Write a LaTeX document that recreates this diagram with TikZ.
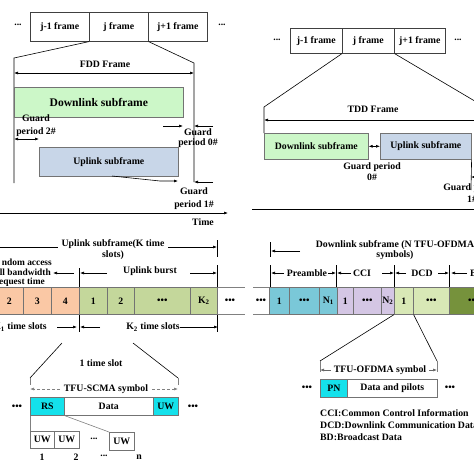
\documentclass[tikz,border=0pt]{standalone}
\usepackage{fontspec}
\setmainfont{Liberation Serif}
\usetikzlibrary{arrows.meta}
\definecolor{dlgreen}{RGB}{204,247,200}
\definecolor{ulblue}{RGB}{200,214,232}
\definecolor{orng}{RGB}{250,200,165}
\definecolor{gcell}{RGB}{196,215,155}
\definecolor{cyanc}{RGB}{20,225,235}
\definecolor{pblue}{RGB}{122,200,216}
\definecolor{purp}{RGB}{212,198,228}
\definecolor{lgr}{RGB}{216,232,182}
\definecolor{dgr}{RGB}{118,146,60}
\tikzset{
  lbl/.style={font=\bfseries\fontsize{9.8}{12}\selectfont, inner sep=0pt, align=center},
  cellbox/.style={draw=black!55, line width=0.6pt, anchor=north west, inner sep=0pt,
     font=\bfseries\fontsize{9.8}{12}\selectfont},
  fbox/.style={draw=black!75, line width=0.6pt, anchor=north west, inner sep=0pt,
     font=\bfseries\fontsize{9.8}{12}\selectfont},
  arr/.style={-{Latex[length=4pt,width=3pt]}, line width=0.6pt},
  darr/.style={{Latex[length=4pt,width=3pt]}-{Latex[length=4pt,width=3pt]}, line width=0.6pt},
  ln/.style={line width=0.6pt},
  gline/.style={line width=0.6pt, draw=black!50},
}
\begin{document}
\begin{tikzpicture}[x=1pt,y=-1pt]
\useasboundingbox (0,0) rectangle (474,474);
\clip (0,0) rectangle (474,474);
\fill[white] (0,0) rectangle (474,474);

% ===== FDD (top left) =====
\node[fbox, minimum width=59, minimum height=29] (f1) at (30,12) {j-1 frame};
\node[fbox, minimum width=59, minimum height=29] (f2) at (89,12) {j frame};
\node[fbox, minimum width=59, minimum height=29] (f3) at (148,12) {j+1 frame};
\node[lbl] (fd1) at (18,25) {...};
\node[lbl] (fd2) at (222,25) {...};
\coordinate (fddL) at (14,58);
\coordinate (fddR) at (194,63);
\coordinate (fddLb) at (14,183);
\coordinate (fddRb) at (194,182);
\draw[ln] (f2.south west) -- (fddL) -- (fddLb);
\draw[ln] (f2.south east) -- (fddR) -- (fddRb);
\node[lbl] (fddt) at (105,64) {FDD Frame};
\coordinate (fa1) at (14,73); \coordinate (fa2) at (194,73);
\draw[darr] (fa1) -- (fa2);
\node[cellbox, fill=dlgreen, minimum width=169, minimum height=30,
  font=\bfseries\fontsize{11.6}{13}\selectfont] (dl1) at (14,87) {Downlink subframe};
\node[lbl, font=\bfseries\fontsize{9.8}{13}\selectfont] (gp2) at (36,126) {Guard\\period 2\#};
\coordinate (g2a) at (14,139); \coordinate (g2b) at (39,139);
\draw[darr] (g2a) -- (g2b);
\node[cellbox, fill=ulblue, minimum width=139, minimum height=29] (ul1) at (39,147) {Uplink subframe};
\coordinate (g0a) at (163,126); \coordinate (g0b) at (183,126);
\coordinate (g0c) at (213,126); \coordinate (g0d) at (194,126);
\draw[arr] (g0a) -- (g0b);
\draw[arr] (g0c) -- (g0d);
\node[lbl, font=\bfseries\fontsize{9.8}{10.5}\selectfont] (gp0) at (198,138) {Guard\\period 0\#};
\coordinate (g1s) at (112,176); \coordinate (g1m) at (160,181); \coordinate (g1e) at (178,181);
\draw[arr] (g1s) -- (g1m) -- (g1e);
\coordinate (g1c) at (213,182); \coordinate (g1d) at (194,182);
\draw[arr] (g1c) -- (g1d);
\node[lbl, font=\bfseries\fontsize{9.8}{13}\selectfont] (gp1) at (194,199) {Guard\\period 1\#};
\coordinate (t0) at (0,213); \coordinate (t1) at (228,213);
\draw[arr] (t0) -- (t1);
\node[lbl] (time) at (203,222) {Time};

% ===== TDD (top right) =====
\node[fbox, minimum width=52, minimum height=25] (r1) at (290,28) {j-1 frame};
\node[fbox, minimum width=52, minimum height=25] (r2) at (342,28) {j frame};
\node[fbox, minimum width=51, minimum height=25] (r3) at (394,28) {j+1 frame};
\node[lbl] (rd1) at (277,40) {...};
\node[lbl] (rd2) at (458,40) {...};
\coordinate (tddL) at (264,107); \coordinate (tddLb) at (264,133);
\coordinate (tddR) at (473,100); \coordinate (tddRb) at (490,110);
\draw[ln] (r2.south west) -- (tddL) -- (tddLb);
\draw[ln] (r2.south east) -- (tddR) -- (tddRb);
\node[lbl] (tddt) at (373,109) {TDD Frame};
\coordinate (ta1) at (490,120); \coordinate (ta2) at (264,120);
\draw[arr] (ta1) -- (ta2);
\node[cellbox, fill=dlgreen, minimum width=104, minimum height=26] (dl2) at (264,133) {Downlink subframe};
\node[cellbox, fill=ulblue, minimum width=91, minimum height=26] (ul2) at (380,133) {Uplink subframe};
\draw[darr] (dl2.east) -- (ul2.west);
\node[lbl, font=\bfseries\fontsize{9.8}{11}\selectfont] (gpr0) at (372,172) {Guard period\\0\#};
\coordinate (vr2) at (471,190);
\draw[ln] (ul2.south east) -- (vr2);
\coordinate (gr1a) at (486,177); \coordinate (gr1b) at (471,177);
\draw[arr] (gr1a) -- (gr1b);
\node[lbl, font=\bfseries\fontsize{9.8}{12}\selectfont] (gpr1) at (472,193) {Guard period\\1\#};
\coordinate (tr0) at (252,209); \coordinate (tr1) at (480,209);
\draw[ln] (tr0) -- (tr1);

% ===== Uplink subframe strip (left middle) =====
\coordinate (us0) at (0,247); \coordinate (us1) at (58,247);
\draw[ln] (us0) -- (us1);
\node[lbl, font=\bfseries\fontsize{9.8}{11}\selectfont] (ust) at (113,249.5) {Uplink subframe(K time\\slots)};
\coordinate (us2) at (168,247); \coordinate (us3) at (217,247);
\draw[arr] (us2) -- (us3);
\coordinate (uv1) at (217,240); \coordinate (uv2) at (217,257);
\draw[ln] (uv1) -- (uv2);
\node[lbl, anchor=east, font=\bfseries\fontsize{9.4}{11}\selectfont] (ra1) at (52,262.5) {ndom access};
\node[lbl, anchor=east, font=\bfseries\fontsize{9.4}{11}\selectfont] (ra2) at (51,272.5) {ll bandwidth};
\node[lbl, anchor=east, font=\bfseries\fontsize{9.4}{11}\selectfont] (ra3) at (45,282.5) {equest time};
\coordinate (raA) at (74,273); \coordinate (raB) at (53,273);
\draw[arr] (raA) -- (raB);
\coordinate (v79a) at (79,268); \coordinate (v79b) at (79,332);
\draw[ln] (v79a) -- (v79b);
\coordinate (ubA) at (107,273); \coordinate (ubB) at (80,273);
\draw[arr] (ubA) -- (ubB);
\node[lbl] (ubt) at (150,271) {Uplink burst};
\coordinate (ubC) at (190,273); \coordinate (ubD) at (217,273);
\draw[arr] (ubC) -- (ubD);
\coordinate (v217a) at (217,265); \coordinate (v217b) at (217,332);
\draw[ln] (v217a) -- (v217b);
% strip
\coordinate (lsA) at (0,287); \coordinate (lsB) at (245,287);
\coordinate (lsC) at (0,314); \coordinate (lsD) at (245,314);
\draw[gline] (lsA) -- (lsB);
\draw[gline] (lsC) -- (lsD);
\node[cellbox, fill=orng, minimum width=28, minimum height=27] (oc0) at (-33,287) {1};
\node[cellbox, fill=orng, minimum width=28, minimum height=27] (oc1) at (-5,287) {2};
\node[cellbox, fill=orng, minimum width=28, minimum height=27] (oc2) at (23,287) {3};
\node[cellbox, fill=orng, minimum width=28, minimum height=27] (oc3) at (51,287) {4};
\node[cellbox, fill=gcell, minimum width=28, minimum height=27] (gc1) at (79,287) {1};
\node[cellbox, fill=gcell, minimum width=27, minimum height=27] (gc2) at (107,287) {2};
\node[cellbox, fill=gcell, minimum width=56, minimum height=27] (gc3) at (134,287) {•••};
\node[cellbox, fill=gcell, minimum width=27, minimum height=27] (gc4) at (190,287) {K\textsubscript{2}};
\node[lbl] (ld1) at (230,301) {•••};
\node[lbl, anchor=east] (k1t) at (47,327) {K\textsubscript{1} time slots};
\coordinate (k1a) at (57,327); \coordinate (k1b) at (77,327);
\draw[arr] (k1a) -- (k1b);
\coordinate (k2a) at (100,327); \coordinate (k2b) at (80,327);
\draw[arr] (k2a) -- (k2b);
\node[lbl] (k2t) at (153,327) {K\textsubscript{2} time slots};
\coordinate (k2c) at (180,327); \coordinate (k2d) at (218,327);
\draw[arr] (k2c) -- (k2d);
% zoom to one time slot
\coordinate (zl0) at (62,343); \coordinate (zl1) at (30,378); \coordinate (zl2) at (30,385);
\coordinate (zr0) at (133,343); \coordinate (zr1) at (178,378); \coordinate (zr2) at (178,385);
\draw[ln] (zl0) -- (zl1);
\draw[gline] (zl1) -- (zl2);
\draw[ln] (zr0) -- (zr1);
\draw[gline] (zr1) -- (zr2);
\node[lbl] (ots) at (101,363) {1 time slot};
\node[lbl] (scma) at (106,389) {TFU-SCMA symbol};
\coordinate (sa1) at (60,389); \coordinate (sa2) at (30,389);
\coordinate (sa3) at (152,389); \coordinate (sa4) at (178,389);
\draw[arr, densely dashed, draw=black!50] (sa1) -- (sa2);
\draw[arr, densely dashed, draw=black!50] (sa3) -- (sa4);
\node[cellbox, fill=cyanc, minimum width=34, minimum height=18] (rs) at (30,397) {RS};
\node[cellbox, minimum width=89, minimum height=18] (sdata) at (64,397) {Data};
\node[cellbox, fill=cyanc, minimum width=25, minimum height=18] (suw) at (153,397) {UW};
\node[lbl] (sd1) at (17,407) {•••};
\node[lbl] (sd2) at (193,407) {•••};
\node[cellbox, minimum width=24, minimum height=17] (uw1) at (30,431) {UW};
\node[cellbox, minimum width=25, minimum height=17] (uw2) at (54,431) {UW};
\node[lbl] (uwd) at (94,439) {...};
\node[cellbox, minimum width=25, minimum height=18] (uwn) at (109,432) {UW};
\draw[gline] (rs.south east) -- (uwn.north west);
\draw[gline] (rs.south west) -- (uw1.north west);
\node[lbl] (n1) at (42,457) {1};
\node[lbl] (n2) at (76,457) {2};
\node[lbl] (n3) at (104,456) {...};
\node[lbl] (nn) at (139,457) {n};

% ===== Downlink subframe strip (right middle) =====
\node[lbl, font=\bfseries\fontsize{9.8}{10.5}\selectfont] (dst) at (395,250) {Downlink subframe (N TFU-OFDMA\\symbols)};
\coordinate (da1) at (300,251); \coordinate (da2) at (271,251);
\draw[arr] (da1) -- (da2);
\coordinate (dv1) at (270,242); \coordinate (dv2) at (270,257);
\draw[ln] (dv1) -- (dv2);
\coordinate (b270a) at (270,265); \coordinate (b270b) at (270,287);
\coordinate (b336a) at (336,265); \coordinate (b336b) at (336,287);
\coordinate (b394a) at (394,265); \coordinate (b394b) at (394,287);
\coordinate (b449a) at (449,265); \coordinate (b449b) at (449,287);
\draw[ln] (b270a) -- (b270b);
\draw[ln] (b336a) -- (b336b);
\draw[ln] (b394a) -- (b394b);
\draw[ln] (b449a) -- (b449b);
\coordinate (pa1) at (284,273); \coordinate (pa2) at (271,273);
\coordinate (pa3) at (328,273); \coordinate (pa4) at (336,273);
\draw[arr] (pa1) -- (pa2);
\draw[arr] (pa3) -- (pa4);
\node[lbl] (pret) at (307,273) {Preamble};
\coordinate (ca1) at (351,273); \coordinate (ca2) at (337,273);
\coordinate (ca3) at (382,273); \coordinate (ca4) at (394,273);
\draw[arr] (ca1) -- (ca2);
\draw[arr] (ca3) -- (ca4);
\node[lbl] (ccit) at (362,273) {CCI};
\coordinate (dd1) at (406,273); \coordinate (dd2) at (395,273);
\coordinate (dd3) at (438,273); \coordinate (dd4) at (449,273);
\draw[arr] (dd1) -- (dd2);
\draw[arr] (dd3) -- (dd4);
\node[lbl] (dcdt) at (422,273) {DCD};
\coordinate (bd1) at (467,273); \coordinate (bd2) at (451,273);
\draw[arr] (bd1) -- (bd2);
\node[lbl, anchor=west] (bdt) at (470,273) {BD};
% strip
\coordinate (rsA) at (253,287); \coordinate (rsB) at (480,287);
\coordinate (rsC) at (253,314); \coordinate (rsD) at (480,314);
\draw[gline] (rsA) -- (rsB);
\draw[gline] (rsC) -- (rsD);
\node[lbl] (rdd) at (261,301) {•••};
\node[cellbox, fill=pblue, minimum width=20, minimum height=27] (p1) at (269,287) {1};
\node[cellbox, fill=pblue, minimum width=30, minimum height=27] (p2) at (289,287) {•••};
\node[cellbox, fill=pblue, minimum width=18, minimum height=27] (p3) at (319,287) {N\textsubscript{1}};
\node[cellbox, fill=purp, minimum width=16, minimum height=27] (c1) at (337,287) {1};
\node[cellbox, fill=purp, minimum width=28, minimum height=27] (c2) at (353,287) {•••};
\node[cellbox, fill=purp, minimum width=13, minimum height=27] (c3) at (381,287) {N\textsubscript{2}};
\node[cellbox, fill=lgr, minimum width=19, minimum height=27] (d1) at (394,287) {1};
\node[cellbox, fill=lgr, minimum width=36, minimum height=27] (d2) at (413,287) {•••};
\node[cellbox, fill=dgr, minimum width=48, minimum height=27] (b1) at (449,287) {•••};
% zoom to one TFU-OFDMA symbol
\coordinate (ol1) at (320,361); \coordinate (ol2) at (320,372);
\coordinate (or1) at (437,361); \coordinate (or2) at (437,372);
\draw[ln] (d1.south west) -- (ol1);
\draw[gline] (ol1) -- (ol2);
\draw[ln] (d1.south east) -- (or1);
\draw[gline] (or1) -- (or2);
\node[lbl] (ofdm) at (380,370) {TFU-OFDMA symbol};
\coordinate (oa1) at (331,370); \coordinate (oa2) at (320,370);
\coordinate (oa3) at (429,370); \coordinate (oa4) at (437,370);
\draw[arr, draw=black!60] (oa1) -- (oa2);
\draw[arr, draw=black!60] (oa3) -- (oa4);
\node[cellbox, fill=cyanc, minimum width=27, minimum height=18] (pn) at (320,379) {PN};
\node[cellbox, minimum width=90, minimum height=18] (dap) at (347,379) {Data and pilots};
\node[lbl] (od1) at (307,388) {•••};
\node[lbl] (od2) at (450,388) {•••};
\node[lbl, anchor=west] (lg1) at (320,413) {CCI:Common Control Information};
\node[lbl, anchor=west] (lg2) at (320,425) {DCD:Downlink Communication Data};
\node[lbl, anchor=west] (lg3) at (320,437) {BD:Broadcast Data};
\end{tikzpicture}
\end{document}
